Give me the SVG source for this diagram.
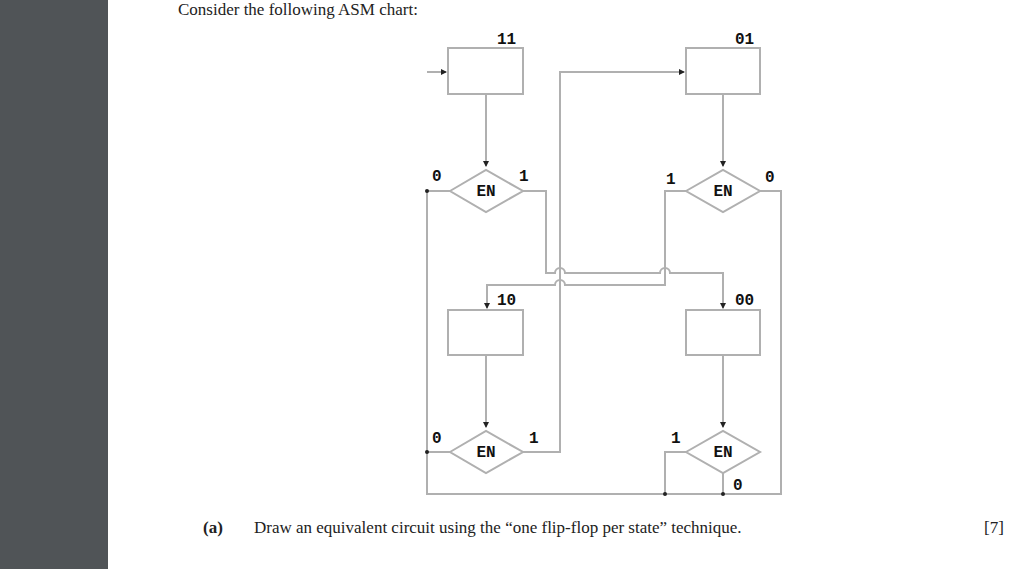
<svg xmlns="http://www.w3.org/2000/svg" width="1013" height="569" viewBox="0 0 1013 569">
<style>
.s{fill:#fff;stroke:#b0b0b0;stroke-width:2}
.w{fill:none;stroke:#b0b0b0;stroke-width:2}
.m{font-family:"Liberation Mono",monospace;font-weight:bold;font-size:16px;fill:#111}
.t{font-family:"Liberation Serif",serif;font-size:17px;fill:#222}
</style>
<defs><marker id="a" markerWidth="6" markerHeight="6" refX="5" refY="3" orient="auto" markerUnits="userSpaceOnUse"><path d="M0,0L6,3L0,6z" fill="#222"/></marker></defs>
<rect x="0" y="0" width="1013" height="569" fill="#fff"/>
<rect x="0" y="0" width="108" height="569" fill="#505457"/>
<text class="t" x="178" y="15">Consider the following ASM chart:</text>
<text class="t" x="203" y="533" font-weight="bold">(a)</text>
<text class="t" x="254" y="533">Draw an equivalent circuit using the “one flip-flop per state” technique.</text>
<text class="t" x="984" y="533">[7]</text>
<g id="connectors">
<path class="w" d="M486,94V166" marker-end="url(#a)"/>
<path class="w" d="M723,94V166" marker-end="url(#a)"/>
<path class="w" d="M486,355V427" marker-end="url(#a)"/>
<path class="w" d="M723,355V427" marker-end="url(#a)"/>
<path class="w" d="M450,191H427V494H781V191H760"/>
<path class="w" d="M427,72H446" marker-end="url(#a)"/>
<path class="w" d="M450,452H427"/>
<path class="w" d="M523,191H546V273H555A5,5 0 0 1 565,273H660A5,5 0 0 1 670,273H723V308" marker-end="url(#a)"/>
<path class="w" d="M686,191H665V285H565A5,5 0 0 0 555,285H487V308" marker-end="url(#a)"/>
<path class="w" d="M523,452H560V72H684" marker-end="url(#a)"/>
<path class="w" d="M686,452H665V494"/>
<path class="w" d="M723,473V494"/>
<circle cx="427" cy="191" r="2" fill="#222"/><circle cx="427" cy="452" r="2" fill="#222"/>
<circle cx="665" cy="494" r="2" fill="#222"/><circle cx="723" cy="494" r="2" fill="#222"/>
</g>
<g id="s11"><rect class="s" x="448" y="48" width="75" height="46"/><text class="m" x="497" y="44">11</text></g>
<g id="s01"><rect class="s" x="686" y="48" width="74" height="46"/><text class="m" x="735" y="44">01</text></g>
<g id="s10"><rect class="s" x="448" y="310" width="75" height="45"/><text class="m" x="497" y="305">10</text></g>
<g id="s00"><rect class="s" x="686" y="310" width="74" height="45"/><text class="m" x="735" y="305">00</text></g>
<g id="d1"><path class="s" d="M450,191L486,170L523,191L486,212z"/><text class="m" x="486" y="196" text-anchor="middle">EN</text><text class="m" x="432" y="181">0</text><text class="m" x="519" y="181">1</text></g>
<g id="d2"><path class="s" d="M686,191L723,170L760,191L723,212z"/><text class="m" x="723" y="196" text-anchor="middle">EN</text><text class="m" x="666" y="184">1</text><text class="m" x="765" y="182">0</text></g>
<g id="d3"><path class="s" d="M450,452L486,431L523,452L486,473z"/><text class="m" x="486" y="457" text-anchor="middle">EN</text><text class="m" x="432" y="443">0</text><text class="m" x="529" y="443">1</text></g>
<g id="d4"><path class="s" d="M686,452L723,431L760,452L723,473z"/><text class="m" x="723" y="457" text-anchor="middle">EN</text><text class="m" x="671" y="443">1</text><text class="m" x="733" y="490">0</text></g>
</svg>
